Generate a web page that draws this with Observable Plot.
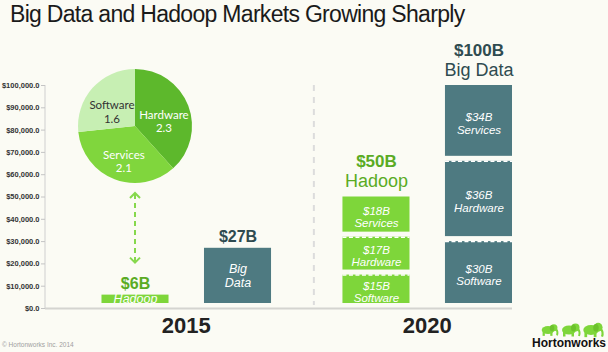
<!DOCTYPE html>
<html><head><meta charset="utf-8">
<script src="https://cdn.jsdelivr.net/npm/d3@7"></script>
<script src="https://cdn.jsdelivr.net/npm/@observablehq/plot@0.6"></script>
<style>
html,body{margin:0;padding:0;background:#fbfbf4;}
#wrap{position:relative;width:608px;height:352px;overflow:hidden;font-family:"Liberation Sans",Arial,sans-serif;}
#title{position:absolute;left:10px;top:3px;font-size:23px;line-height:23px;letter-spacing:-0.7px;color:#1a1a1a;white-space:nowrap;}
#chart{position:absolute;left:0;top:0;}
[aria-label^="y-axis"] line,[aria-label^="y-axis"] path{stroke:#c4c4c4;}
[aria-label^="y-axis"] text{font-weight:bold;}
</style></head><body>
<div id="wrap"><div id="chart"></div><div id="title">Big Data and Hadoop Markets Growing Sharply</div></div>
<script>
// ---- data (values in $ millions) ----
const years = ["2015", "2020"];
const seriesNames = ["Hadoop", "Big Data"];
const components = ["Software", "Hardware", "Services"];
const totals2015 = [6000, 27000];          // Hadoop, Big Data
const hadoop2020 = [15000, 17000, 18000];  // Software, Hardware, Services
const bigData2020 = [30000, 36000, 34000]; // Software, Hardware, Services
const pieLabels = ["Hardware", "Services", "Software"];
const pieValues = [2.3, 2.1, 1.6];
const yTicks = [0, 10000, 20000, 30000, 40000, 50000, 60000, 70000, 80000, 90000, 100000];
const seriesColors = ["#7ed63a", "#4e7a81"];
const labelColors = ["#5aab24", "#2f4b50"];
const pieColors = ["#5db82c", "#80d63d", "#c7efb3"];

// ---- derived tables ----
const rows = [];
seriesNames.forEach((s, i) => rows.push({year: "2015", series: s, part: null, value: totals2015[i]}));
[hadoop2020, bigData2020].forEach((vals, i) =>
  vals.forEach((v, j) => rows.push({year: "2020", series: seriesNames[i], part: components[j], value: v})));
const totals = d3.rollups(rows, v => d3.sum(v, d => d.value), d => d.year, d => d.series)
  .flatMap(([year, g]) => g.map(([series, total]) => ({year, series, total})));
const boundaries = [];
d3.groups(rows, d => d.year, d => d.series).forEach(([year, g]) => g.forEach(([series, segs]) => {
  let c = 0;
  segs.slice(0, -1).forEach(d => { c += d.value; boundaries.push({year, series, value: c}); });
}));
const money = v => "$" + (v / 1000) + "B";

const marks = [];
seriesNames.forEach((s, i) => {
  marks.push(Plot.barY(rows.filter(d => d.series === s), {fx: "year", x: "series", y: "value", fill: seriesColors[i], insetBottom: 5}));
});
marks.push(Plot.tickY(boundaries, {fx: "year", x: "series", y: "value", stroke: "#ffffff", strokeWidth: 1.5, strokeDasharray: "4,2.5"}));
marks.push(Plot.text(rows.filter(d => d.year === "2020"), Plot.stackY({
  fx: "year", x: "series", y: "value", text: d => money(d.value) + "\n" + d.part,
  fill: "#ffffff", fontStyle: "italic", fontSize: 11.5, lineHeight: 1.08})));
marks.push(Plot.text(rows.filter(d => d.year === "2015"), Plot.stackY({
  fx: "year", x: "series", y: "value", text: d => d.series.replace(" ", "\n"), dy: -3,
  fill: "#ffffff", fontStyle: "italic", fontSize: 12.5, lineHeight: 1.15})));
seriesNames.forEach((s, i) => {
  const t15 = totals.filter(d => d.series === s && d.year === "2015");
  const t20 = totals.filter(d => d.series === s && d.year === "2020");
  marks.push(Plot.text(t15, {fx: "year", x: "series", y: "total", text: d => money(d.total), lineAnchor: "bottom", dy: -6, fontSize: 16, fontWeight: "bold", fill: labelColors[i]}));
  marks.push(Plot.text(t20, {fx: "year", x: "series", y: "total", text: d => money(d.total), lineAnchor: "bottom", dy: -30, fontSize: 17, fontWeight: "bold", fill: labelColors[i]}));
  marks.push(Plot.text(t20, {fx: "year", x: "series", y: "total", text: d => d.series, lineAnchor: "bottom", dy: -10, fontSize: 18, fill: labelColors[i]}));
});

const chart = Plot.plot({
  width: 608, height: 352,
  marginLeft: 45, marginRight: 96, marginTop: 85, marginBottom: 44,
  style: {background: "transparent", fontFamily: "Liberation Sans, Arial, sans-serif", fontSize: "7.5px", color: "#333"},
  fx: {domain: years, paddingInner: 0.062, paddingOuter: 0, axis: null, round: false, label: null},
  x: {domain: seriesNames, paddingInner: 0.346, paddingOuter: 0.2755, align: 1, axis: null, round: false, label: null},
  y: {domain: [0, 100000], ticks: yTicks, tickFormat: d => "$" + d3.format(",.1f")(d), tickSize: 4, tickPadding: 2, label: null},
  marks
});
document.getElementById("chart").appendChild(chart);

// ---- annotations placed with Plot's own scales ----
const svg = d3.select(chart);
const ys = chart.scale("y"), xs = chart.scale("x"), fxs = chart.scale("fx");
const bw = xs.bandwidth;
const barX = (year, s) => fxs.apply(year) + xs.apply(s) - xs.range[0];
const y0 = ys.apply(0), yTop = ys.apply(d3.max(yTicks));
const x0 = fxs.range[0];

const back = svg.insert("g", "g");
back.append("line").attr("x1", x0).attr("x2", x0).attr("y1", yTop).attr("y2", y0).attr("stroke", "#cfcfcf");
back.append("line").attr("x1", x0).attr("x2", barX("2020", "Big Data") + bw).attr("y1", y0 + 0.5).attr("y2", y0 + 0.5)
  .attr("stroke", "#d4d4d0").attr("stroke-width", 2);
const sepX = d3.interpolateNumber(barX("2015", "Big Data") + bw, barX("2020", "Hadoop"))(0.6);
back.append("line").attr("x1", sepX).attr("x2", sepX).attr("y1", yTop).attr("y2", y0 - 3)
  .attr("stroke", "#dcdcdc").attr("stroke-width", 2).attr("stroke-dasharray", "6,6");

const front = svg.append("g").attr("text-anchor", "start");
years.forEach(yr => {
  const cx = (barX(yr, "Hadoop") + barX(yr, "Big Data") + bw) / 2;
  front.append("text").attr("x", cx).attr("y", y0 + 25).attr("text-anchor", "middle")
    .attr("font-size", 22).attr("font-weight", "bold").attr("fill", "#222").text(yr);
});

// pie of the 2015 Hadoop market
const pcx = barX("2015", "Hadoop") + bw / 2, pcy = 126, R = 57;
const pieG = front.append("g").attr("transform", `translate(${pcx},${pcy})`);
const arcs = d3.pie().sort(null).value(d => d.v)(pieLabels.map((l, i) => ({l, v: pieValues[i]})));
const arc = d3.arc().innerRadius(0).outerRadius(R);
const labelArc = d3.arc().innerRadius(31).outerRadius(31);
pieG.selectAll("path").data(arcs).join("path").attr("d", arc).attr("fill", (d, i) => pieColors[i]);
arcs.forEach((a, i) => {
  const [lx, ly] = labelArc.centroid(a);
  const t = pieG.append("text").attr("text-anchor", "middle").attr("font-family", "Lato, 'Open Sans', sans-serif")
    .attr("font-size", 11.5).attr("fill", i === 2 ? "#333" : "#ffffff");
  t.append("tspan").attr("x", lx).attr("y", ly + 4).text(a.data.l);
  t.append("tspan").attr("x", lx).attr("y", ly + 17.5).text(a.data.v);
});

// dashed double arrow from pie to the Hadoop bar
const ay1 = pcy + R + 10, ay2 = ys.apply(totals2015[0]) - 32;
const arrowC = "#86d84c";
front.append("line").attr("x1", pcx).attr("x2", pcx).attr("y1", ay1 + 1).attr("y2", ay2 - 1)
  .attr("stroke", arrowC).attr("stroke-width", 2).attr("stroke-dasharray", "5,4");
front.append("polyline").attr("points", `${pcx - 5},${ay1 + 5} ${pcx},${ay1} ${pcx + 5},${ay1 + 5}`)
  .attr("fill", "none").attr("stroke", arrowC).attr("stroke-width", 2);
front.append("polyline").attr("points", `${pcx - 5},${ay2 - 5} ${pcx},${ay2} ${pcx + 5},${ay2 - 5}`)
  .attr("fill", "none").attr("stroke", arrowC).attr("stroke-width", 2);

// footer + logo
front.append("text").attr("x", 2).attr("y", 347).attr("text-anchor", "start").attr("font-size", 6.5).attr("fill", "#a0a0a0").text("© Hortonworks Inc. 2014");
const logo = front.append("g").attr("fill", "#7ed63a");
[[548, 0.9], [569, 1.0], [591, 1.1]].forEach(([ex, s]) => {
  const e = logo.append("g").attr("transform", `translate(${ex},330) scale(${s})`);
  e.append("ellipse").attr("cx", 0).attr("cy", 0).attr("rx", 7).attr("ry", 4.5);
  e.append("circle").attr("cx", 6.5).attr("cy", -2.5).attr("r", 4);
  e.append("ellipse").attr("cx", 4.5).attr("cy", -2).attr("rx", 2.5).attr("ry", 3.5).attr("fill", "#6cc22c");
  e.append("path").attr("d", "M9,-1 Q11.5,2 10,6").attr("stroke", "#7ed63a").attr("stroke-width", 2).attr("fill", "none");
  e.append("rect").attr("x", -6).attr("y", 2).attr("width", 2.5).attr("height", 4.5);
  e.append("rect").attr("x", 2.5).attr("y", 2).attr("width", 2.5).attr("height", 4.5);
});
front.append("text").attr("x", 532).attr("y", 347).attr("text-anchor", "start").attr("font-size", 12).attr("font-weight", "bold").attr("fill", "#111").text("Hortonworks");
</script>
</body></html>
